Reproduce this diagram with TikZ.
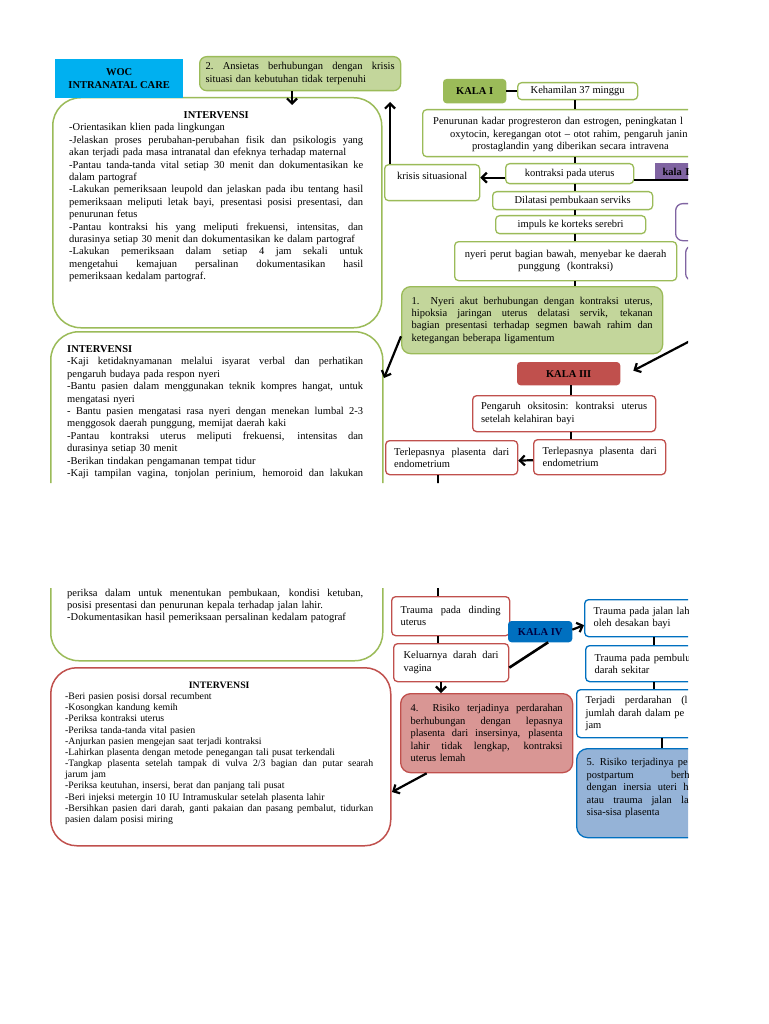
\documentclass[tikz,border=0pt]{standalone}
\usepackage{fontspec}
\setmainfont{Liberation Serif}
\usetikzlibrary{arrows.meta}

\definecolor{grline}{HTML}{9BBB59}
\definecolor{grfill}{HTML}{C3D69B}
\definecolor{rdline}{HTML}{C0504D}
\definecolor{rdfill}{HTML}{D99694}
\definecolor{blline}{HTML}{0070C0}
\definecolor{blfill}{HTML}{95B3D7}
\definecolor{pufill}{HTML}{8064A2}
\definecolor{cyfill}{HTML}{00B0F0}

% one justified line of a box text
\newcommand{\jl}[1]{\makebox[\linewidth][s]{\spaceskip=\fontdimen2\font plus 1fil\relax\xspaceskip=\spaceskip #1}}
% the same, for a line running out of the picture
\newcommand{\jw}[2]{\makebox[#1][s]{\spaceskip=\fontdimen2\font plus 1fil\relax #2}}

\begin{document}
\begin{tikzpicture}[x=1pt, y=-1pt,
  txt/.style={font=\fontsize{10.5}{12.4}\selectfont},
  box/.style={anchor=north west, draw, line width=1.3pt, rounded corners=4pt, inner sep=0pt, txt},
  grbox/.style={box, draw=grline, fill=white},
  rdbox/.style={box, draw=rdline, fill=white},
  blbox/.style={box, draw=blline, fill=white},
  cutbox/.style={blbox, inner xsep=9pt, text width=130pt, align=left},
  label/.style={box, rounded corners=3pt, font=\bfseries\fontsize{10.5}{12}\selectfont},
  bigbox/.style={anchor=north west, draw, line width=1.5pt, rounded corners=28pt, fill=white, inner sep=0pt},
  para/.style={anchor=base west, inner sep=0pt, align=left, txt},
  conn/.style={line width=2.6pt},
  arr/.style={line width=2.2pt, -{Straight Barb[length=5pt,width=10pt]}},
]
\useasboundingbox (0,0) rectangle (768,1024);
\begin{scope}
\clip (0,0) rectangle (688,483) (0,588) rectangle (688,1024);

% left column
\node[bigbox, draw=grline, minimum width=329pt, minimum height=230pt] (int1) at (52,97) {};
\node[para, text width=294pt] (int1txt) at (69,118.5) {%
\makebox[\linewidth]{\textbf{INTERVENSI}}\\
-Orientasikan klien pada lingkungan\\
\jl{-Jelaskan proses perubahan-perubahan fisik dan psikologis yang}\\
akan terjadi pada masa intranatal dan efeknya terhadap maternal\\
\jl{-Pantau tanda-tanda vital setiap 30 menit dan dokumentasikan ke}\\
dalam partograf\\
\jl{-Lakukan pemeriksaan leupold dan jelaskan pada ibu tentang hasil}\\
\jl{pemeriksaan meliputi letak bayi, presentasi posisi presentasi, dan}\\
penurunan fetus\\
\jl{-Pantau kontraksi his yang meliputi frekuensi, intensitas, dan}\\
durasinya setiap 30 menit dan dokumentasikan ke dalam partograf\\
\jl{-Lakukan pemeriksaan dalam setiap 4 jam sekali untuk}\\
\jl{mengetahui kemajuan persalinan dokumentasikan hasil}\\
pemeriksaan kedalam partograf.};

\node[box, draw=cyfill, fill=cyfill, rounded corners=0pt, minimum width=127pt, minimum height=38pt, align=center, font=\bfseries\fontsize{10.5}{12.5}\selectfont] (woc) at (55,59) {WOC\\INTRANATAL CARE};

\node[grbox, fill=grfill, rounded corners=7pt, minimum width=201pt, minimum height=34pt, text width=189pt, align=left] (ansietas) at (199,56)
  {\jl{2. Ansietas berhubungan dengan krisis}\\situasi dan kebutuhan tidak terpenuhi};

\node[bigbox, draw=grline, minimum width=332pt, minimum height=329pt] (int2) at (50,331) {};
\node[para, text width=296pt] (int2txt) at (67,352.5) {%
\textbf{INTERVENSI}\\
\jl{-Kaji ketidaknyamanan melalui isyarat verbal dan perhatikan}\\
pengaruh budaya pada respon nyeri\\
\jl{-Bantu pasien dalam menggunakan teknik kompres hangat, untuk}\\
mengatasi nyeri\\
\jl{- Bantu pasien mengatasi rasa nyeri dengan menekan lumbal 2-3}\\
menggosok daerah punggung, memijat daerah kaki\\
\jl{-Pantau kontraksi uterus meliputi frekuensi, intensitas dan}\\
durasinya setiap 30 menit\\
-Berikan tindakan pengamanan tempat tidur\\
\jl{-Kaji tampilan vagina, tonjolan perinium, hemoroid dan lakukan}};
\node[para, text width=296pt] (int2txtb) at (67,596) {%
\jl{periksa dalam untuk menentukan pembukaan, kondisi ketuban,}\\
posisi presentasi dan penurunan kepala terhadap jalan lahir.\\
-Dokumentasikan hasil pemeriksaan persalinan kedalam patograf};

\node[bigbox, draw=rdline, rounded corners=26pt, minimum width=340pt, minimum height=178pt] (int3) at (50,667) {};
\node[para, text width=308pt, font=\fontsize{9.8}{11.15}\selectfont] (int3txt) at (65,688.5) {%
\makebox[\linewidth]{\textbf{INTERVENSI}}\\
-Beri pasien posisi dorsal recumbent\\
-Kosongkan kandung kemih\\
-Periksa kontraksi uterus\\
-Periksa tanda-tanda vital pasien\\
-Anjurkan pasien mengejan saat terjadi kontraksi\\
-Lahirkan plasenta dengan metode penegangan tali pusat terkendali\\
\jl{-Tangkap plasenta setelah tampak di vulva 2/3 bagian dan putar searah}\\
jarum jam\\
-Periksa keutuhan, insersi, berat dan panjang tali pusat\\
-Beri injeksi metergin 10 IU Intramuskular setelah plasenta lahir\\
\jl{-Bersihkan pasien dari darah, ganti pakaian dan pasang pembalut, tidurkan}\\
pasien dalam posisi miring};

% kala I
\node[label, draw=grline, fill=grline, minimum width=62pt, minimum height=23pt] (kala1) at (443,79) {KALA I};
\node[grbox, minimum width=120pt, minimum height=17pt] (hamil) at (517,82) {Kehamilan 37 minggu};
\node[grbox, minimum width=300pt, minimum height=47pt] (turun) at (422,109) {};
\node[para, text width=330pt] (turuntxt) at (433,125) {%
Penurunan kadar progresteron dan estrogen, peningkatan l\\
\hspace*{17pt}oxytocin, keregangan otot -- otot rahim, pengaruh janin\\
\hspace*{39pt}prostaglandin yang diberikan secara intravena};
\node[grbox, minimum width=128pt, minimum height=20pt] (kontraksi) at (505,163) {kontraksi pada uterus};
\node[grbox, minimum width=95pt, minimum height=36pt, text depth=14pt] (krisis) at (384,164) {krisis situasional};
\node[label, draw=pufill, fill=pufill, rounded corners=0pt, minimum width=60pt, minimum height=16pt, text width=46pt, align=left] (kala2) at (655,163) {kala II};
\node[grbox, minimum width=160pt, minimum height=18pt] (dilatasi) at (492,191) {Dilatasi pembukaan serviks};
\node[grbox, minimum width=150pt, minimum height=18pt] (impuls) at (495,215) {impuls ke korteks serebri};
\node[grbox, minimum width=222pt, minimum height=39pt, text width=210pt, align=center] (nyeri) at (454,241)
  {nyeri perut bagian bawah, menyebar ke daerah\\punggung~ (kontraksi)};
\node[grbox, fill=grfill, rounded corners=9pt, minimum width=261pt, minimum height=67pt, text width=241pt, align=left] (nyeriakut) at (401,286) {%
\jl{1.~ Nyeri akut berhubungan dengan kontraksi uterus,}\\
\jl{hipoksia jaringan uterus delatasi servik, tekanan}\\
\jl{bagian presentasi terhadap segmen bawah rahim dan}\\
ketegangan beberapa ligamentum};
\node[box, draw=pufill, fill=white, rounded corners=7pt, minimum width=40pt, minimum height=37pt] (pu1) at (675,203) {};
\node[box, draw=pufill, fill=white, rounded corners=7pt, minimum width=40pt, minimum height=35pt] (pu2) at (685,245) {};

% kala III
\node[label, draw=rdline, fill=rdline, minimum width=102pt, minimum height=22pt] (kala3) at (517,362) {KALA III};
\node[rdbox, minimum width=183pt, minimum height=36pt, text width=166pt, align=left] (pengaruh) at (472,395)
  {\jl{Pengaruh oksitosin: kontraksi uterus}\\setelah kelahiran bayi};
\node[rdbox, minimum width=132pt, minimum height=35pt, text width=114pt, align=left] (lepas2) at (533,439)
  {\jl{Terlepasnya plasenta dari}\\endometrium};
\node[rdbox, minimum width=132pt, minimum height=34pt, text width=115pt, align=left] (lepas1) at (385,440)
  {\jl{Terlepasnya plasenta dari}\\endometrium};
\node[rdbox, minimum width=118pt, minimum height=39pt, text width=100pt, align=left] (trauma1) at (391,596)
  {\jl{Trauma pada dinding}\\uterus};
\node[rdbox, minimum width=115pt, minimum height=38pt, text width=95pt, align=left] (keluar) at (393,643)
  {\jl{Keluarnya darah dari}\\vagina};
\node[rdbox, fill=rdfill, rounded corners=10pt, minimum width=172pt, minimum height=79pt, text width=152pt, align=left] (risiko4) at (400,693) {%
\jl{4.~ Risiko terjadinya perdarahan}\\
\jl{berhubungan dengan lepasnya}\\
\jl{plasenta dari insersinya, plasenta}\\
\jl{lahir tidak lengkap, kontraksi}\\
uterus lemah};

% kala IV
\node[label, draw=blline, fill=blline, text=blue!25!black, minimum width=63pt, minimum height=20pt] (kala4) at (508,621) {KALA IV};
\node[cutbox, minimum height=37pt] (trauma2) at (584,599)
  {Trauma pada jalan lahir\\oleh desakan bayi};
\node[cutbox, minimum height=36pt] (trauma3) at (585,645)
  {Trauma pada pembuluh\\darah sekitar};
\node[cutbox, minimum height=48pt] (terjadi) at (576,689)
  {\jw{102pt}{Terjadi perdarahan (l}\\jumlah darah dalam pe\\jam};
\node[cutbox, fill=blfill, rounded corners=11pt, inner xsep=10pt, minimum height=89pt] (risiko5) at (576,748) {%
\jw{101pt}{5. Risiko terjadinya pe}\\
\jw{103pt}{postpartum berh}\\
\jw{102pt}{dengan inersia uteri h}\\
\jw{102pt}{atau trauma jalan la}\\
sisa-sisa plasenta\\ \mbox{}};

% connectors
\coordinate (spine) at (575,0);
\coordinate (spine3) at (571,0);
\coordinate (spine4) at (438,0);
\coordinate (spine5) at (441,0);
\coordinate (bspine) at (654,0);
\coordinate (bspine2) at (662,0);
\coordinate (k2end) at (690,180);
\coordinate (uptip) at (390,102);
\coordinate (int1tip) at (292,105);
\coordinate (int2tip) at (384,378);
\coordinate (rightin) at (690,341);
\coordinate (int3tip) at (392,792);

\draw[arr] (ansietas.south -| int1tip) -- (int1tip);
\draw[arr] (uptip |- krisis.north) -- (uptip);
\draw[conn] (kala1) -- (hamil);
\draw[conn] (hamil.south -| spine) -- (spine |- turun.north);
\draw[conn] (spine |- turun.south) -- (spine |- kontraksi.north);
\draw[arr] ([yshift=-4pt]kontraksi.west) -- ([yshift=-4pt]krisis.east |- kontraksi.west);
\draw[conn] (kontraksi.east |- k2end) -- (k2end);
\draw[conn] (spine |- kontraksi.south) -- (spine |- dilatasi.north);
\draw[conn] (spine |- dilatasi.south) -- (spine |- impuls.north);
\draw[conn] (spine |- impuls.south) -- (spine |- nyeri.north);
\draw[conn] (spine |- nyeri.south) -- (spine |- nyeriakut.north);
\draw[arr] ([yshift=18pt]nyeriakut.south west) -- (int2tip);
\draw[arr] (rightin) -- ([xshift=13pt,yshift=3pt]kala3.east);
\draw[conn] (spine3 |- kala3.south) -- (spine3 |- pengaruh.north);
\draw[conn] (spine3 |- pengaruh.south) -- (spine3 |- lepas2.north);
\draw[arr] ([yshift=-3pt]lepas2.west) -- ([yshift=-3pt]lepas1.east);
\draw[conn] (spine4 |- lepas1.south) -- (spine4 |- trauma1.north);
\draw[conn] (spine4 |- trauma1.south) -- (spine4 |- keluar.north);
\draw[arr] (spine5 |- keluar.south) -- (spine5 |- risiko4.north);
\draw[arr] ([xshift=-60pt]risiko4.south) -- (int3tip);
\draw[conn] ([yshift=-5pt]keluar.east) -- ([xshift=8pt]kala4.south);
\draw[arr] ([yshift=2pt]kala4.east) -- ([yshift=-7pt]trauma2.west);
\draw[conn] (bspine |- trauma2.south) -- (bspine |- trauma3.north);
\draw[conn] (bspine |- trauma3.south) -- (bspine |- terjadi.north);
\draw[conn] (bspine2 |- terjadi.south) -- (bspine2 |- risiko5.north);
\end{scope}
\end{tikzpicture}
\end{document}
